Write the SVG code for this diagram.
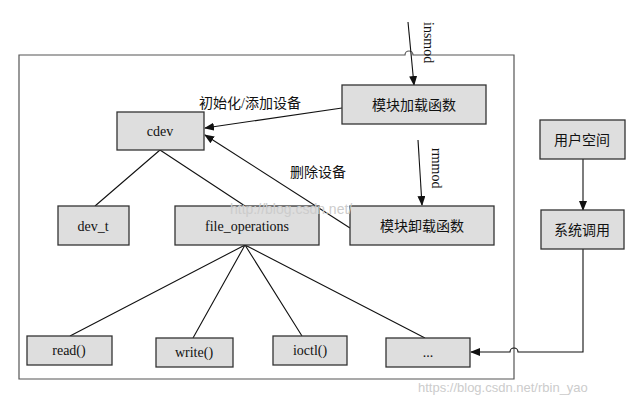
<svg xmlns="http://www.w3.org/2000/svg" width="634" height="401" viewBox="0 0 634 401">
<style>
.b{fill:#dedede;stroke:#333;stroke-width:1.3}
.t{font-family:"Liberation Serif","Noto Sans CJK SC",serif;font-size:14px;fill:#111;text-anchor:middle}
.l{stroke:#111;stroke-width:1.1;fill:none}
.w{font-family:"Liberation Sans",sans-serif;fill:#ccc}
</style>
<defs><marker id="a" markerWidth="10" markerHeight="8" refX="9" refY="4" orient="auto" markerUnits="userSpaceOnUse"><path d="M0,0 L10,4 L0,8 z" fill="#111"/></marker></defs>
<rect width="634" height="401" fill="#fff"/>
<path d="M19,55 H405 A4,4 0 0 1 413,55 H514 V379 H19 Z" fill="none" stroke="#555" stroke-width="1.2"/>
<g id="connectors">
<path class="l" d="M160,150 L95,206 M160,150 L245,206"/>
<path class="l" d="M245,245 L70,336 M245,245 L193,338 M245,245 L302,336 M245,245 L425,338"/>
<path class="l" d="M342,108 L205,128" marker-end="url(#a)"/>
<path class="l" d="M350,228 L205,135" marker-end="url(#a)"/>
<path class="l" d="M408,22 L414,85" marker-end="url(#a)"/>
<path class="l" d="M418,140 L422,205" marker-end="url(#a)"/>
<path class="l" d="M583,159 L583,210" marker-end="url(#a)"/>
<path class="l" d="M583,249 V352 H518 A4,4 0 0 0 510,352 H471" marker-end="url(#a)"/>
<text class="t" x="250" y="108">初始化/添加设备</text>
<text class="t" x="318" y="177">删除设备</text>
<text class="t" transform="translate(424,22) rotate(90)" text-anchor="start" style="text-anchor:start">insmod</text>
<text class="t" transform="translate(432,148) rotate(90)" style="text-anchor:start">rmmod</text>
</g>
<g id="n1"><rect class="b" x="342" y="85" width="144" height="39"/><text class="t" x="414" y="110">模块加载函数</text></g>
<g id="n2"><rect class="b" x="117" y="112" width="87" height="38"/><text class="t" x="160" y="136">cdev</text></g>
<g id="n3"><rect class="b" x="350" y="206" width="144" height="39"/><text class="t" x="422" y="231">模块卸载函数</text></g>
<g id="n4"><rect class="b" x="58" y="206" width="71" height="39"/><text class="t" x="93" y="231">dev_t</text></g>
<g id="n5"><rect class="b" x="175" y="206" width="144" height="39"/><text class="t" x="247" y="231">file_operations</text></g>
<g id="n6"><rect class="b" x="540" y="120" width="85" height="39"/><text class="t" x="582" y="145">用户空间</text></g>
<g id="n7"><rect class="b" x="541" y="210" width="83" height="39"/><text class="t" x="582" y="235">系统调用</text></g>
<g id="n8"><rect class="b" x="27" y="336" width="85" height="29"/><text class="t" x="69" y="355">read()</text></g>
<g id="n9"><rect class="b" x="156" y="338" width="77" height="29"/><text class="t" x="194" y="357">write()</text></g>
<g id="n10"><rect class="b" x="273" y="336" width="74" height="29"/><text class="t" x="310" y="355">ioctl()</text></g>
<g id="n11"><rect class="b" x="386" y="338" width="84" height="29"/><text class="t" x="428" y="357">...</text></g>
<text class="w" x="230" y="214" font-size="14" font-family="Liberation Serif">http://blog.csdn.net/</text>
<text class="w" x="418" y="392" font-size="13">https://blog.csdn.net/rbin_yao</text>
</svg>
